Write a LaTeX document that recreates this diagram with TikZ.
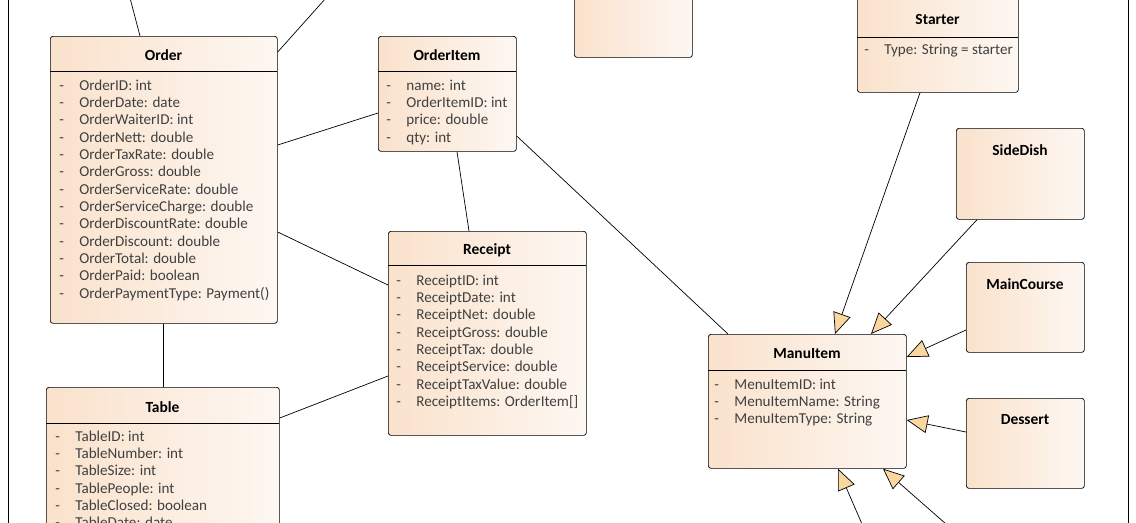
\documentclass[tikz,border=0pt]{standalone}
\usepackage{fontspec}
\setmainfont{Carlito}
\usetikzlibrary{arrows.meta}
\definecolor{clsleft}{RGB}{250,226,204}
\definecolor{clsright}{RGB}{253,247,242}
\definecolor{genfill}{RGB}{250,214,160}
\tikzset{cls/.style = {draw, rectangle, rounded corners=1.5pt, inner sep=0pt,
                       left color=clsleft, right color=clsright},
         title/.style = {font=\fontsize{8.8}{10}\selectfont\bfseries, inner sep=0pt},
         attr/.style = {font=\fontsize{8.6}{10}\selectfont, text=black!75, anchor=base west, inner sep=0pt},
         assoc/.style = {draw, thin},
         gen/.style = {-{Triangle[fill=genfill, length=0.42cm, width=0.36cm]}}}
\newcommand\umlclass[7]{%
  \node[cls, anchor=north west, minimum width=#4*0.02cm, minimum height=#5*0.02cm] (#1) at (#2,#3) {};
  \draw (#2,#3+#6) -- (#2+#4,#3+#6);
  \node[title] at (#2+#4/2,#3+#6/2+2) {#7};}
\newcommand\emptyclass[6]{%
  \node[cls, anchor=north west, minimum width=#4*0.02cm, minimum height=#5*0.02cm] (#1) at (#2,#3) {};
  \node[title] at (#2+#4/2,#3+22) {#6};}
\newcommand\attrs[3]{%
  \foreach \t [count=\i from 0] in {#3} {
    \node[attr] at (#1,#2+5+17.35*\i) {-};
    \node[attr] at (#1+20,#2+5+17.35*\i) {\t};}}
\begin{document}
\begin{tikzpicture}[x=0.02cm, y=-0.02cm]
  \useasboundingbox (0,0) rectangle (1136,522);
  \clip (0,0) rectangle (1136,522);
  \draw (8,-10) rectangle (1128,540);

  % classes
  \umlclass{order}{50}{36}{227}{287}{35}{Order}
  \attrs{59}{85}{OrderID: int, OrderDate: date, OrderWaiterID: int, OrderNett: double,
    OrderTaxRate: double, OrderGross: double, OrderServiceRate: double,
    OrderServiceCharge: double, OrderDiscountRate: double, OrderDiscount: double,
    OrderTotal: double, OrderPaid: boolean, OrderPaymentType: Payment()}
  \umlclass{orderitem}{378}{36}{138}{115}{35}{OrderItem}
  \attrs{386}{85}{name: int, OrderItemID: int, price: double, qty: int}
  \umlclass{receipt}{388}{231}{198}{204}{34}{Receipt}
  \attrs{396}{280}{ReceiptID: int, ReceiptDate: int, ReceiptNet: double, ReceiptGross: double,
    ReceiptTax: double, ReceiptService: double, ReceiptTaxValue: double, ReceiptItems: OrderItem[]}
  \umlclass{table}{46}{387}{233}{180}{36}{Table}
  \attrs{55}{436}{TableID: int, TableNumber: int, TableSize: int, TablePeople: int,
    TableClosed: boolean, TableDate: date}
  \umlclass{manuitem}{708}{334}{198}{134}{36}{ManuItem}
  \attrs{714}{384}{MenuItemID: int, MenuItemName: String, MenuItemType: String}
  \umlclass{starter}{857}{-3}{161}{95}{40}{Starter}
  \attrs{864}{49}{Type: String = starter}
  \node[cls, anchor=north west, minimum width=118*0.02cm, minimum height=80*0.02cm] (blank) at (574,-23) {};
  \emptyclass{sidedish}{956}{128}{128}{91}{SideDish}
  \emptyclass{maincourse}{966}{262}{118}{90}{MainCourse}
  \emptyclass{dessert}{966}{398}{118}{90}{Dessert}

  % associations
  \coordinate (upa) at (130,-2);
  \coordinate (upb) at (326,-2);
  \draw[assoc] (upa) -- (order.north -| 140,0);
  \draw[assoc] (upb) -- (order.east |- 0,52);
  \draw[assoc] (order.east |- 0,145) -- (orderitem.west |- 0,113);
  \draw[assoc] (order.east |- 0,232) -- (receipt.west |- 0,285);
  \draw[assoc] (order.south -| 163,0) -- (table.north -| 163,0);
  \draw[assoc] (table.east |- 0,418) -- (receipt.west |- 0,376);
  \draw[assoc] (orderitem.south -| 457,0) -- (receipt.north -| 469,0);
  \draw[assoc] (orderitem.east |- 0,136) -- (manuitem.north -| 728,0);

  % generalizations
  \coordinate (downa) at (862,524);
  \coordinate (downb) at (946,524);
  \draw[gen] (starter.south -| 920,0) -- (manuitem.north -| 835,0);
  \draw[gen] (sidedish.south -| 977,0) -- (manuitem.north -| 871,0);
  \draw[gen] (maincourse.west |- 0,330) -- (manuitem.east |- 0,357);
  \draw[gen] (dessert.west |- 0,432) -- (manuitem.east |- 0,420);
  \draw[gen] (downa) -- (manuitem.south -| 838,0);
  \draw[gen] (downb) -- (manuitem.south -| 883,0);
\end{tikzpicture}
\end{document}
